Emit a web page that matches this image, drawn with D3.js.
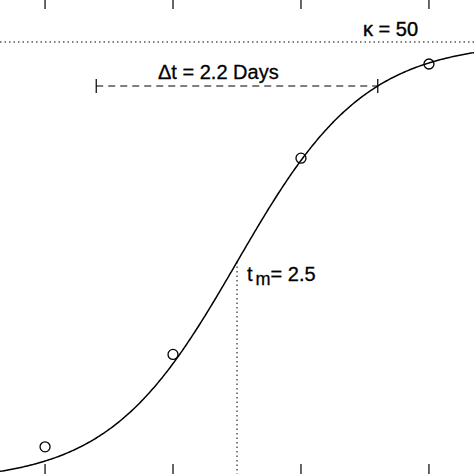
<!DOCTYPE html>
<html><head><meta charset="utf-8">
<script src="https://cdn.jsdelivr.net/npm/d3@7"></script>
<style>body{margin:0;background:#fff}text{font-family:"Liberation Sans",Arial,sans-serif;}</style>
</head><body><div id="chart"></div>
<script>
// logistic fit parameters
const K = 50, tm = 2.5, dt = 2.2;
const obsT = [1, 2, 3, 4];
const obsN = [4.0, 14.5, 36.8, 47.5];
const xTicks = [1, 2, 3, 4];

const width = 474, height = 474;
const x = d3.scaleLinear().domain([0.648, 4.352]).range([0, width]);
const y = d3.scaleLinear().domain([0, 25]).range([482, 262]);
const r = Math.log(81) / dt;
const logistic = t => K / (1 + Math.exp(-r * (t - tm)));

const svg = d3.select("#chart").append("svg").attr("width", width).attr("height", height);

// tick marks top and bottom
svg.selectAll(".tt").data(xTicks).join("line")
  .attr("x1", d => x(d)).attr("x2", d => x(d)).attr("y1", 0).attr("y2", 9)
  .attr("stroke", "#000").attr("stroke-width", 1.2);
svg.selectAll(".bt").data(xTicks).join("line")
  .attr("x1", d => x(d)).attr("x2", d => x(d)).attr("y1", height - 10).attr("y2", height)
  .attr("stroke", "#000").attr("stroke-width", 1.2);

// K asymptote
svg.append("line").attr("x1", 0).attr("x2", width).attr("y1", y(K)).attr("y2", y(K))
  .attr("stroke", "#000").attr("stroke-dasharray", "1.5,3");
svg.append("text").attr("x", 363).attr("y", 36).attr("font-size", 20).text("\u03BA = 50")
  .attr("stroke", "#000").attr("stroke-width", 0.4);

// tm line
svg.append("line").attr("x1", x(tm)).attr("x2", x(tm)).attr("y1", y(K / 2)).attr("y2", height)
  .attr("stroke", "#000").attr("stroke-dasharray", "1.5,3");
const tmText = svg.append("text").attr("x", 247).attr("y", 281).attr("font-size", 20)
  .attr("stroke", "#000").attr("stroke-width", 0.3);
tmText.append("tspan").text("t");
tmText.append("tspan").attr("font-size", 18).attr("dy", 4).attr("dx", 3).text("m");
tmText.append("tspan").attr("dy", -4).text("= 2.5");

// delta t line (10% to 90%)
const t10 = tm - dt / 2, t90 = tm + dt / 2;
svg.append("line").attr("x1", x(t10)).attr("x2", x(t90)).attr("y1", y(0.9 * K)).attr("y2", y(0.9 * K))
  .attr("stroke", "#000").attr("stroke-width", 1.2).attr("stroke-dasharray", "7,5");
[t10, t90].forEach(t => svg.append("line").attr("x1", x(t)).attr("x2", x(t))
  .attr("y1", y(0.9 * K) - 7).attr("y2", y(0.9 * K) + 7).attr("stroke", "#000").attr("stroke-width", 1.2));
svg.append("text").attr("x", 158).attr("y", 79).attr("font-size", 20).text("\u0394t = 2.2 Days")
  .attr("stroke", "#000").attr("stroke-width", 0.3);

// curve
const ts = d3.range(0.6, 4.41, 0.01);
svg.append("path").datum(ts)
  .attr("d", d3.line().x(t => x(t)).y(t => y(logistic(t))))
  .attr("fill", "none").attr("stroke", "#000").attr("stroke-width", 1.5);

// observations
svg.selectAll(".pt").data(obsT).join("circle")
  .attr("cx", d => x(d)).attr("cy", (d, i) => y(obsN[i])).attr("r", 5)
  .attr("fill", "none").attr("stroke", "#000").attr("stroke-width", 1.3);
</script></body></html>
